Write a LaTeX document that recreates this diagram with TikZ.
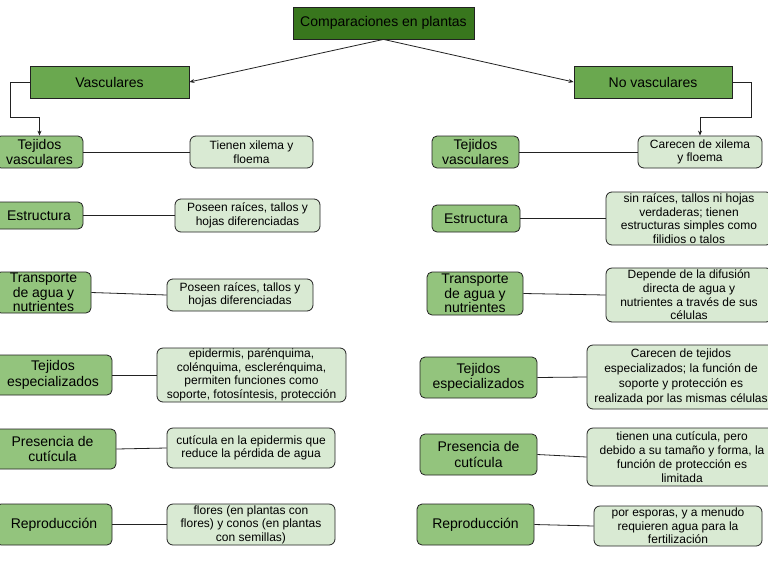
\documentclass[tikz,border=0pt]{standalone}
\usepackage{fontspec}
\setmainfont{Liberation Sans}
\usetikzlibrary{arrows.meta}
\definecolor{rootg}{HTML}{38761D}
\definecolor{midg}{HTML}{6AA84F}
\definecolor{catg}{HTML}{93C47D}
\definecolor{descg}{HTML}{D9EAD3}
\definecolor{edge}{HTML}{222222}
\tikzset{
  x=1pt, y=-1pt,
  boxbase/.style={draw=edge, line width=0.8pt, inner sep=0pt, align=center, text=black},
  toprect/.style={boxbase, fill=#1, font=\fontsize{14}{16}\selectfont},
  catbox/.style={boxbase, fill=catg, rounded corners=5pt, font=\fontsize{14}{15.5}\selectfont},
  descbox/.style={boxbase, fill=descg, rounded corners=6pt, font=\fontsize{12}{13.6}\selectfont},
  link/.style={draw=edge, line width=0.8pt},
  arr/.style={link, -{Stealth[length=5pt,width=4pt]}},
  wh/.style 2 args={minimum width=#1, minimum height=#2}
}
\begin{document}
\begin{tikzpicture}
\useasboundingbox[fill=white] (0,0) rectangle (768,576);
% top
\node[toprect=rootg, wh={181pt}{32pt}] (root) at (383.5,23) {Comparaciones en plantas};
\node[toprect=midg, wh={159pt}{32pt}] (vas) at (109.5,82) {Vasculares};
\node[toprect=midg, wh={158pt}{32pt}] (nov) at (653,82) {No vasculares};
% left column
\node[catbox, wh={87pt}{32pt}] (tv1) at (39.5,152) {Tejidos\\vasculares};
\node[descbox, wh={123pt}{32pt}] (tv1d) at (251.5,152) {Tienen xilema y\\floema};
\node[catbox, wh={88pt}{27pt}] (es1) at (39,215.5) {Estructura};
\node[descbox, wh={145pt}{33pt}] (es1d) at (247.5,215.5) {Poseen raíces, tallos y\\hojas diferenciadas};
\node[catbox, wh={95pt}{41pt}, font=\fontsize{14}{14.5}\selectfont] (tr1) at (43.5,292.5) {Transporte\\de agua y\\nutrientes};
\node[descbox, wh={146pt}{32pt}] (tr1d) at (240,295) {Poseen raíces, tallos y\\hojas diferenciadas};
\node[catbox, wh={118pt}{40pt}] (te1) at (53,375) {Tejidos\\especializados};
\node[descbox, wh={189pt}{54pt}] (te1d) at (251.5,375) {epidermis, parénquima,\\colénquima, esclerénquima,\\permiten funciones como\\soporte, fotosíntesis, protección};
\node[catbox, wh={127pt}{40pt}] (pc1) at (52.5,449) {Presencia de\\cutícula};
\node[descbox, wh={168pt}{40pt}] (pc1d) at (251,448) {cutícula en la epidermis que\\reduce la pérdida de agua};
\node[catbox, wh={116pt}{41pt}] (re1) at (54,524.5) {Reproducción};
\node[descbox, wh={168pt}{41pt}] (re1d) at (251,524.5) {flores (en plantas con\\flores) y conos (en plantas\\con semillas)};
% right column
\node[catbox, wh={87pt}{32pt}] (tv2) at (475.5,152) {Tejidos\\vasculares};
\node[descbox, wh={124pt}{32pt}] (tv2d) at (700,152) {Carecen de xilema\\y floema};
\node[catbox, wh={88pt}{27pt}] (es2) at (476,218.5) {Estructura};
\node[descbox, wh={166pt}{53pt}] (es2d) at (689,218.5) {sin raíces, tallos ni hojas\\verdaderas; tienen\\estructuras simples como\\filidios o talos};
\node[catbox, wh={96pt}{43pt}, font=\fontsize{14}{14.5}\selectfont] (tr2) at (475,293.5) {Transporte\\de agua y\\nutrientes};
\node[descbox, wh={166pt}{54pt}] (tr2d) at (689,295) {Depende de la difusión\\directa de agua y\\nutrientes a través de sus\\células};
\node[catbox, wh={117pt}{41pt}] (te2) at (478.5,377.5) {Tejidos\\especializados};
\node[descbox, wh={188pt}{64pt}, font=\fontsize{12}{15}\selectfont] (te2d) at (681,377) {Carecen de tejidos\\especializados; la función de\\soporte y protección es\\realizada por las mismas células};
\node[catbox, wh={117pt}{41pt}] (pc2) at (478.5,454.5) {Presencia de\\cutícula};
\node[descbox, wh={190pt}{58pt}, font=\fontsize{12}{14.2}\selectfont] (pc2d) at (682,457) {tienen una cutícula, pero\\debido a su tamaño y forma, la\\función de protección es\\limitada};
\node[catbox, wh={117pt}{41pt}] (re2) at (475.5,524.5) {Reproducción};
\node[descbox, wh={168pt}{40pt}] (re2d) at (678,526) {por esporas, y a menudo\\requieren agua para la\\fertilización};
% connectors
\draw[arr] (root.south) -- (vas.east);
\draw[arr] (root.south) -- (nov.west);
\draw[arr] (vas.west) -- ++(-19,0) -- ++(0,35) -| (tv1.north);
\draw[arr] (nov.east) -- ++(19,0) -- ++(0,35) -| (tv2d.north);
\foreach \a in {tv1,es1,tr1,te1,pc1,re1,tv2,es2,tr2,te2,pc2,re2}
  \draw[link] (\a.east) -- (\a d.west);
\end{tikzpicture}
\end{document}
